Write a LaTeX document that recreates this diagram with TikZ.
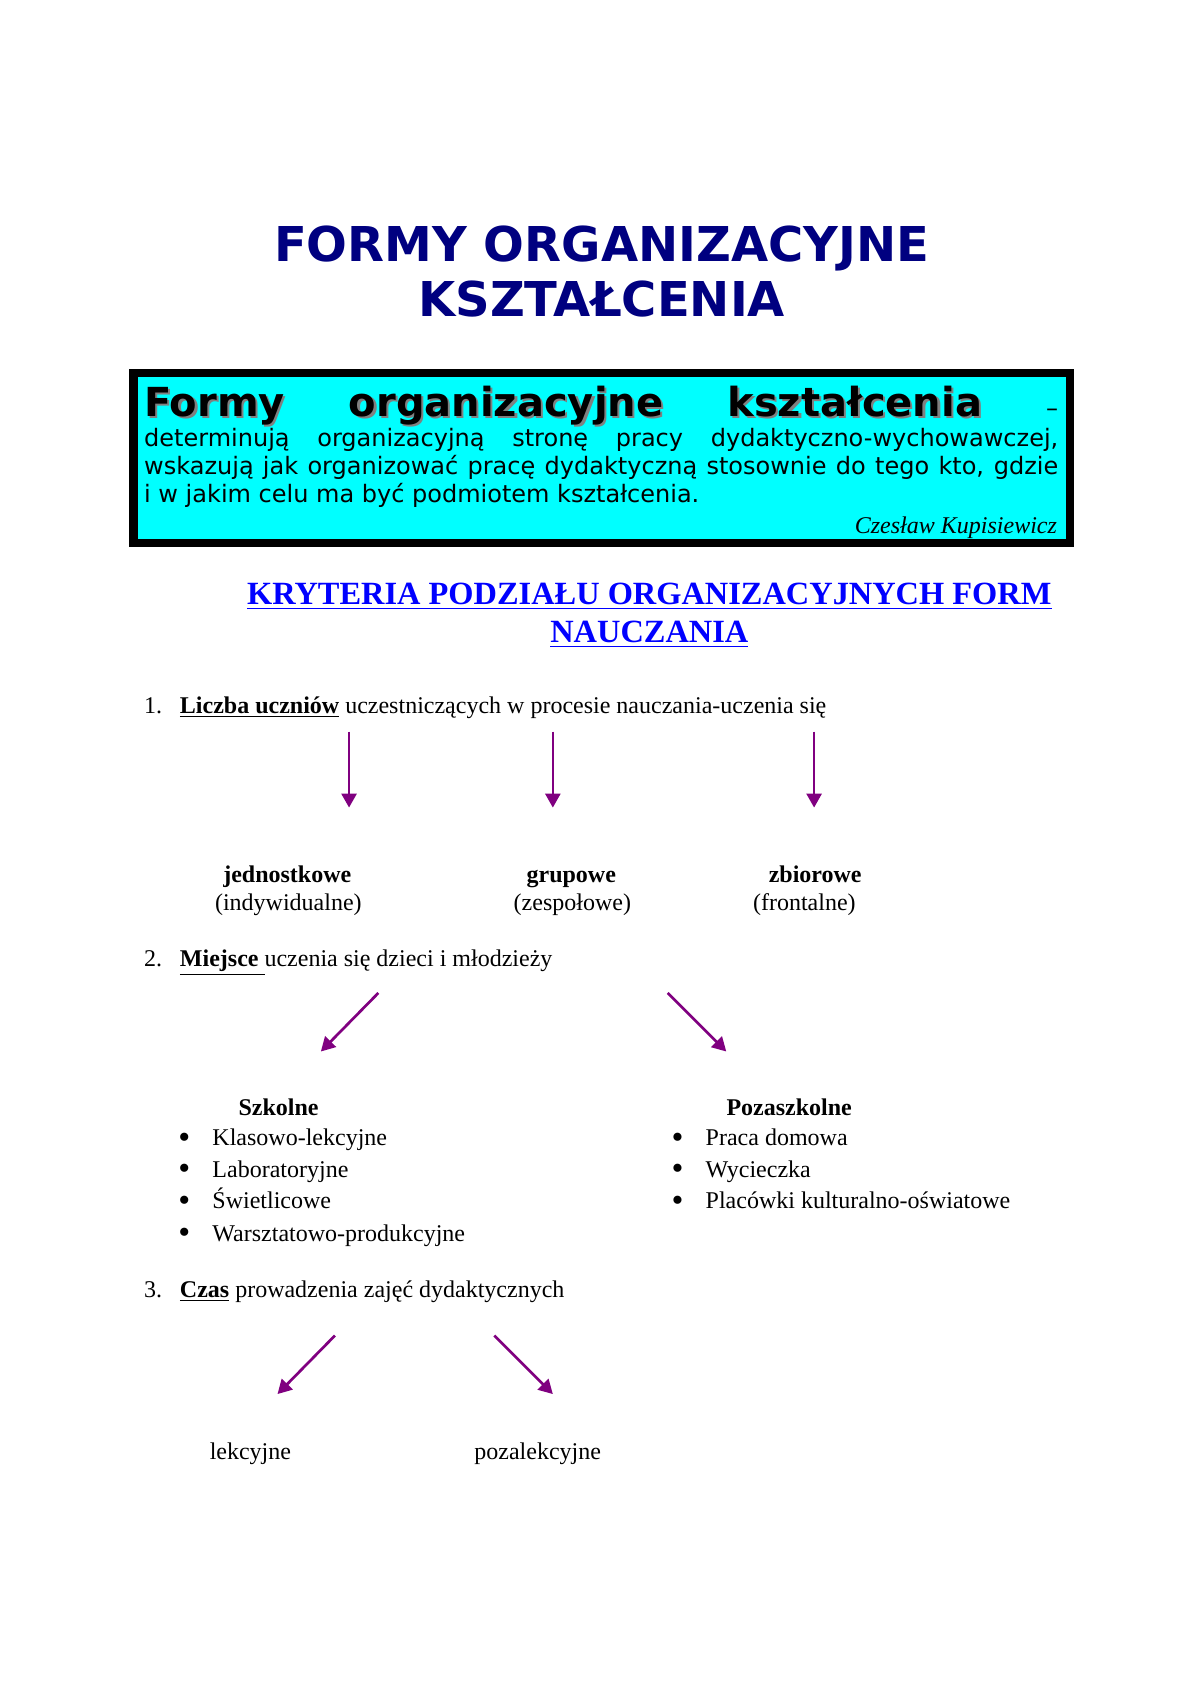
\documentclass[tikz,border=0pt]{standalone}
\usepackage{fontspec}
\setmainfont{Liberation Serif}
\newfontfamily\dvs{DejaVu Sans}
\usetikzlibrary{arrows.meta}
\definecolor{navytitle}{RGB}{0,0,128}
\definecolor{arrpurple}{RGB}{128,0,128}
\definecolor{boxcyan}{RGB}{0,255,255}
\definecolor{linkblue}{RGB}{0,0,255}
\newcommand{\bigbul}{{\fontsize{17}{17}\selectfont\raisebox{-1.2pt}{•}}}
\begin{document}
\begin{tikzpicture}[x=0.54201pt,y=-0.54201pt,
  txt/.style={inner sep=0pt, outer sep=0pt, font=\fontsize{12}{14}\selectfont},
  boxtxt/.style={inner sep=0pt, outer sep=0pt, anchor=base west, font=\dvs\fontsize{12}{14}\selectfont},
  bigtxt/.style={inner sep=0pt, outer sep=0pt, anchor=base west, font=\dvs\bfseries\fontsize{20}{24}\selectfont},
  titletxt/.style={inner sep=0pt, outer sep=0pt, anchor=base, text=navytitle, font=\dvs\bfseries\fontsize{24}{28}\selectfont},
  headtxt/.style={inner sep=0pt, outer sep=0pt, anchor=base, text=linkblue, font=\bfseries\fontsize{16.2}{18}\selectfont},
  arr/.style={draw=arrpurple, line width=1.35pt, -{Triangle[width=7.5pt,length=7pt]}},
  ]
\useasboundingbox (0,0) rectangle (1107,1566.4);
\fill[white] (0,0) rectangle (1107,1566.4);

% title
\node[titletxt] (t1) at (555,241) {FORMY ORGANIZACYJNE};
\node[titletxt] (t2) at (555,292) {KSZTAŁCENIA};

% definition box
\draw[fill=boxcyan, draw=black, line width=4.4pt] (123,344) rectangle (987,501);
\node[bigtxt, text=gray] (b1s) at (135,386) {\makebox[457pt][s]{Formy\hfill organizacyjne\hfill kształcenia\hfill{\fontsize{12}{14}\selectfont\phantom{–}}}};
\node[bigtxt] (b1) at (133,384) {\makebox[457pt][s]{Formy\hfill organizacyjne\hfill kształcenia\hfill{\mdseries\fontsize{12}{14}\selectfont –}}};
\node[boxtxt] (b2) at (133,412) {\makebox[457pt][s]{determinują organizacyjną stronę pracy dydaktyczno-wychowawczej,}};
\node[boxtxt] (b3) at (133,438) {\makebox[457pt][s]{wskazują jak organizować pracę dydaktyczną stosownie do tego kto, gdzie}};
\node[boxtxt] (b4) at (133,464) {i w jakim celu ma być podmiotem kształcenia.};
\node[txt, anchor=base east, font=\itshape\fontsize{12}{14}\selectfont] (auth) at (975,492) {Czesław Kupisiewicz};

% heading
\node[headtxt] (h1) at (599,558) {\underline{KRYTERIA PODZIAŁU ORGANIZACYJNYCH FORM}};
\node[headtxt] (h2) at (599,593) {\underline{NAUCZANIA}};

% section 1
\node[txt, anchor=base west] (n1) at (133,658) {1.};
\node[txt, anchor=base west] (s1) at (166,658) {\underline{\textbf{Liczba uczniów}} uczestniczących w procesie nauczania-uczenia się};
\coordinate (a1s) at (322,675); \coordinate (a1e) at (322,745);
\coordinate (a2s) at (510,675); \coordinate (a2e) at (510,745);
\coordinate (a3s) at (751,675); \coordinate (a3e) at (751,745);
\draw[arr] (a1s) -- (a1e);
\draw[arr] (a2s) -- (a2e);
\draw[arr] (a3s) -- (a3e);
\node[txt, anchor=base] (c1) at (265,814) {\textbf{jednostkowe}};
\node[txt, anchor=base] (c1b) at (266,840) {(indywidualne)};
\node[txt, anchor=base] (c2) at (527,814) {\textbf{grupowe}};
\node[txt, anchor=base] (c2b) at (528,840) {(zespołowe)};
\node[txt, anchor=base] (c3) at (752,814) {\textbf{zbiorowe}};
\node[txt, anchor=base] (c3b) at (742,840) {(frontalne)};

% section 2
\node[txt, anchor=base west] (n2) at (133,892) {2.};
\node[txt, anchor=base west] (s2) at (166,892) {\underline{\textbf{Miejsce}\ }uczenia się dzieci i młodzieży};
\coordinate (m1s) at (349,916); \coordinate (m1e) at (296,970);
\coordinate (m2s) at (616,916); \coordinate (m2e) at (670,970);
\draw[arr] (m1s) -- (m1e);
\draw[arr] (m2s) -- (m2e);
\node[txt, anchor=base] (sz) at (257,1029) {\textbf{Szkolne}};
\node[txt, anchor=base] (sz1d) at (170,1057) {\bigbul};
\node[txt, anchor=base west] (sz1) at (196,1057) {Klasowo-lekcyjne};
\node[txt, anchor=base] (sz2d) at (170,1086) {\bigbul};
\node[txt, anchor=base west] (sz2) at (196,1086) {Laboratoryjne};
\node[txt, anchor=base] (sz3d) at (170,1115) {\bigbul};
\node[txt, anchor=base west] (sz3) at (196,1115) {Świetlicowe};
\node[txt, anchor=base] (sz4d) at (170,1145) {\bigbul};
\node[txt, anchor=base west] (sz4) at (196,1145) {Warsztatowo-produkcyjne};
\node[txt, anchor=base] (pz) at (728,1029) {\textbf{Pozaszkolne}};
\node[txt, anchor=base] (pz1d) at (625,1057) {\bigbul};
\node[txt, anchor=base west] (pz1) at (651,1057) {Praca domowa};
\node[txt, anchor=base] (pz2d) at (625,1086) {\bigbul};
\node[txt, anchor=base west] (pz2) at (651,1086) {Wycieczka};
\node[txt, anchor=base] (pz3d) at (625,1115) {\bigbul};
\node[txt, anchor=base west] (pz3) at (651,1115) {Placówki kulturalno-oświatowe};

% section 3
\node[txt, anchor=base west] (n3) at (133,1197) {3.};
\node[txt, anchor=base west] (s3) at (166,1197) {\underline{\textbf{Czas}} prowadzenia zajęć dydaktycznych};
\coordinate (z1s) at (309,1232); \coordinate (z1e) at (256,1286);
\coordinate (z2s) at (456,1232); \coordinate (z2e) at (510,1286);
\draw[arr] (z1s) -- (z1e);
\draw[arr] (z2s) -- (z2e);
\node[txt, anchor=base] (l1) at (231,1346) {lekcyjne};
\node[txt, anchor=base] (l2) at (496,1346) {pozalekcyjne};
\end{tikzpicture}
\end{document}
